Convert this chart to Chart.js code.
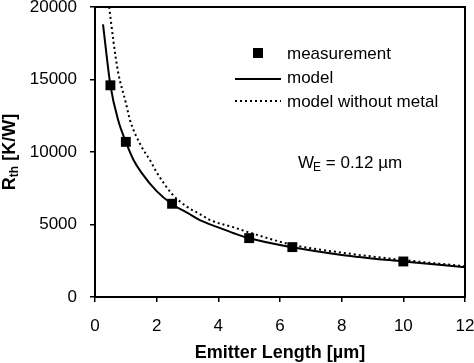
<!DOCTYPE html>
<html>
<head>
<meta charset="utf-8">
<script src="https://cdn.jsdelivr.net/npm/chart.js@4/dist/chart.umd.min.js"></script>
<style>
  html, body { margin: 0; padding: 0; background: #fff; }
  #wrap { width: 474px; height: 363px; }
</style>
</head>
<body>
<div id="wrap"><canvas id="chart"></canvas></div>
<script>
// 测量点
const measX = [0.5, 1, 2.5, 5, 6.4, 10];
const measY = [14600, 10700, 6430, 4060, 3440, 2450];

// 模型曲线
const modelX = [0.26, 0.5, 0.75, 1, 1.25, 1.5, 2, 2.5, 3, 3.4, 4, 4.5, 5, 6.4, 8, 10, 12];
const modelY = [18800, 14600, 12200, 10700, 9450, 8600, 7300, 6400, 5800, 5300, 4800, 4400, 4050, 3430, 2900, 2450, 2050];

// 无金属模型曲线
const noMetalX = [0.46, 0.6, 0.75, 1, 1.135, 1.5, 1.78, 2, 2.5, 3, 3.4, 3.73, 4.5, 5, 6.4, 8, 10, 12];
const noMetalY = [20000, 17600, 15500, 13400, 12200, 10400, 9450, 8600, 7100, 6200, 5720, 5310, 4800, 4450, 3600, 3060, 2550, 2120];

const xTickStep = 2;
const yTickStep = 5000;

const toPoints = (xs, ys) => xs.map((x, i) => ({ x: x, y: ys[i] }));

const FONT = 'Arial, "Liberation Sans", sans-serif';

// 边框、坐标轴标题、图例和注释
const decorPlugin = {
    id: 'decor',
    afterDraw(chart) {
        const ctx = chart.ctx;
        const a = chart.chartArea;
        ctx.save();

        // 外框
        ctx.strokeStyle = '#000';
        ctx.lineWidth = 2;
        ctx.strokeRect(a.left, a.top, a.right - a.left, a.bottom - a.top);

        ctx.fillStyle = '#000';

        // x轴标题
        ctx.font = 'bold 18px ' + FONT;
        ctx.textAlign = 'center';
        ctx.textBaseline = 'alphabetic';
        ctx.fillText('Emitter Length [\u00b5m]', (a.left + a.right) / 2, 358);

        // y轴标题（带下标）
        ctx.save();
        ctx.translate(15, (a.top + a.bottom) / 2);
        ctx.rotate(-Math.PI / 2);
        ctx.textAlign = 'left';
        ctx.font = 'bold 18px ' + FONT;
        const wR = ctx.measureText('R').width;
        const wRest = ctx.measureText(' [K/W]').width;
        ctx.font = 'bold 12px ' + FONT;
        const wSub = ctx.measureText('th').width;
        let x0 = -(wR + wSub + wRest) / 2;
        ctx.font = 'bold 18px ' + FONT;
        ctx.fillText('R', x0, 0);
        ctx.font = 'bold 12px ' + FONT;
        ctx.fillText('th', x0 + wR, 3);
        ctx.font = 'bold 18px ' + FONT;
        ctx.fillText(' [K/W]', x0 + wR + wSub, 0);
        ctx.restore();

        // 图例
        ctx.font = '17px ' + FONT;
        ctx.textAlign = 'left';
        ctx.fillRect(253, 48, 10, 10);
        ctx.fillText('measurement', 287, 59);

        ctx.beginPath();
        ctx.lineWidth = 2;
        ctx.setLineDash([]);
        ctx.moveTo(235, 79);
        ctx.lineTo(281, 79);
        ctx.stroke();
        ctx.fillText('model', 287, 83);

        ctx.beginPath();
        ctx.setLineDash([2, 3]);
        ctx.moveTo(235, 101);
        ctx.lineTo(281, 101);
        ctx.stroke();
        ctx.setLineDash([]);
        ctx.fillText('model without metal', 287, 107);

        // 注释 W_E = 0.12 µm
        ctx.font = '17px ' + FONT;
        const wW = ctx.measureText('W').width;
        ctx.fillText('W', 298, 168);
        ctx.font = '12px ' + FONT;
        const wE = ctx.measureText('E').width;
        ctx.fillText('E', 298 + wW - 1, 171);
        ctx.font = '17px ' + FONT;
        ctx.fillText(' = 0.12 \u00b5m', 298 + wW - 1 + wE, 168);

        ctx.restore();
    }
};

const ctx = document.getElementById('chart').getContext('2d');
const chart = new Chart(ctx, {
    type: 'scatter',
    data: {
        datasets: [
            {
                label: 'model without metal',
                data: toPoints(noMetalX, noMetalY),
                showLine: true,
                borderColor: '#000',
                borderWidth: 2,
                borderDash: [2, 3],
                pointRadius: 0,
                cubicInterpolationMode: 'monotone'
            },
            {
                label: 'model',
                data: toPoints(modelX, modelY),
                showLine: true,
                borderColor: '#000',
                borderWidth: 2,
                pointRadius: 0,
                cubicInterpolationMode: 'monotone'
            },
            {
                label: 'measurement',
                data: toPoints(measX, measY),
                showLine: false,
                pointStyle: 'rect',
                pointRadius: 7,
                pointBorderWidth: 0,
                backgroundColor: '#000',
                borderColor: '#000'
            }
        ]
    },
    options: {
        responsive: true,
        maintainAspectRatio: false,
        animation: false,
        layout: { padding: { top: 7, right: 9, left: 0, bottom: 0 } },
        plugins: {
            legend: { display: false },
            tooltip: { enabled: false }
        },
        scales: {
            x: {
                type: 'linear',
                min: 0,
                max: 12,
                ticks: {
                    stepSize: xTickStep,
                    color: '#000',
                    padding: 14,
                    maxRotation: 0,
                    font: { size: 17, family: FONT },
                    callback: v => String(v)
                },
                grid: {
                    drawOnChartArea: false,
                    drawTicks: true,
                    tickLength: 5,
                    color: '#000',
                    lineWidth: 1.5
                },
                border: { color: '#000', width: 2 },
                afterFit(s) {
                    s.height = 66;
                    s.paddingLeft = 0;
                    s.paddingRight = 0;
                }
            },
            y: {
                type: 'linear',
                min: 0,
                max: 20000,
                ticks: {
                    stepSize: yTickStep,
                    color: '#000',
                    padding: 13,
                    font: { size: 17, family: FONT },
                    callback: v => String(v)
                },
                grid: {
                    drawOnChartArea: false,
                    drawTicks: true,
                    tickLength: 5,
                    color: '#000',
                    lineWidth: 1.5
                },
                border: { color: '#000', width: 2 },
                afterFit(s) {
                    s.width = 95;
                    s.paddingTop = 0;
                    s.paddingBottom = 0;
                }
            }
        }
    },
    plugins: [decorPlugin]
});
</script>
</body>
</html>
